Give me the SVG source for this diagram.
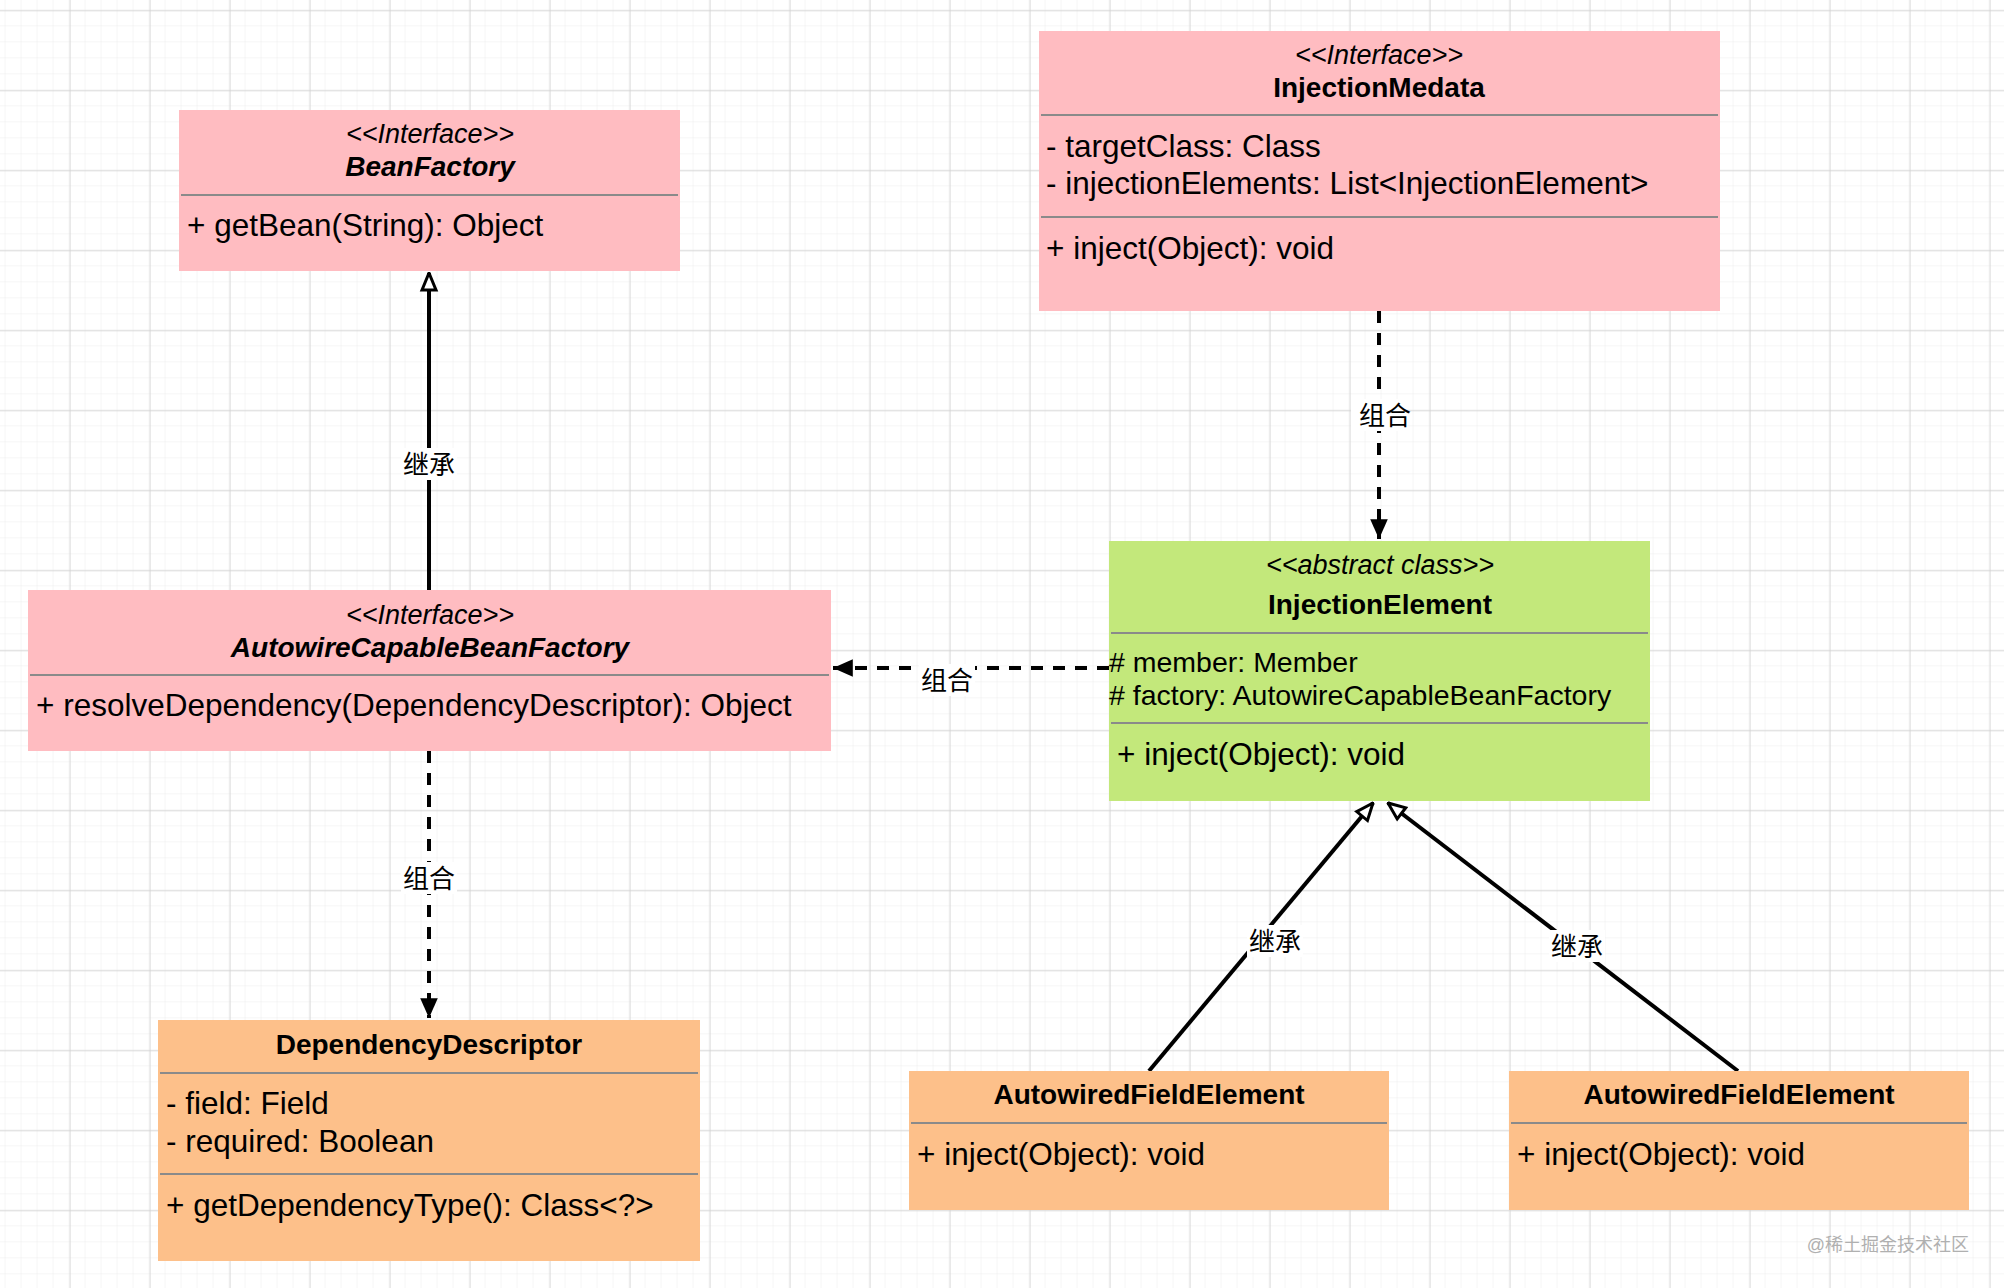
<svg xmlns="http://www.w3.org/2000/svg" width="2004" height="1288" viewBox="0 0 2004 1288">
<style>
text{font-family:"Liberation Sans",Arial,"Noto Sans CJK SC",sans-serif;fill:#000}
.st{font-size:27px;font-style:italic;text-anchor:middle}
.nm{font-size:28px;font-weight:bold;text-anchor:middle}
.it{font-style:italic}
.m{font-size:31.5px}
.sep{stroke:#8a8a8a;stroke-width:2}
.pink{fill:#FFBCC1}.green{fill:#C3E87B}.orange{fill:#FDC08A}
.ln{stroke:#000;stroke-width:4;fill:none}
.d{stroke-dasharray:12 10}
.lbl{font-size:26px;text-anchor:middle}
.lb{fill:#fff}
</style>
<defs>
<pattern id="minor" width="16" height="16" patternUnits="userSpaceOnUse" x="5.6" y="10.3"><path d="M16 0V16M0 16H16" stroke="#ececec" stroke-width="1" fill="none"/></pattern>
<pattern id="major" width="80" height="80" patternUnits="userSpaceOnUse" x="69.6" y="10.3"><path d="M0 0V80M0 0H80" stroke="#cfcfcf" stroke-width="1.5" fill="none"/></pattern>
<marker id="tri" viewBox="0 0 20 20" refX="19" refY="10" markerWidth="20" markerHeight="20" markerUnits="userSpaceOnUse" orient="auto"><path d="M2 3L19 10L2 17Z" fill="#fff" stroke="#000" stroke-width="3"/></marker>
<marker id="arr" viewBox="0 0 20 20" refX="19" refY="10" markerWidth="22" markerHeight="22" markerUnits="userSpaceOnUse" orient="auto"><path d="M1 2L19 10L1 18Z" fill="#000"/></marker>
</defs>
<rect width="2004" height="1288" fill="#fff"/>
<rect width="2004" height="1288" fill="url(#minor)"/>
<rect width="2004" height="1288" fill="url(#major)"/>

<g id="connectors">
<path class="ln" d="M429 590V273" marker-end="url(#tri)"/>
<path class="ln d" d="M1379 311V539" marker-end="url(#arr)"/>
<path class="ln d" d="M1109 668H833" marker-end="url(#arr)"/>
<path class="ln d" d="M429 751V1018" marker-end="url(#arr)"/>
<path class="ln" d="M1149 1071L1373 803" marker-end="url(#tri)"/>
<path class="ln" d="M1738 1071L1388 803" marker-end="url(#tri)"/>
<rect class="lb" x="401" y="448" width="56" height="32"/><text class="lbl" x="429" y="474">继承</text>
<rect class="lb" x="1351" y="399" width="56" height="32"/><text class="lbl" x="1385" y="425">组合</text>
<rect class="lb" x="919" y="664" width="56" height="32"/><text class="lbl" x="947" y="690">组合</text>
<rect class="lb" x="401" y="862" width="56" height="32"/><text class="lbl" x="429" y="888">组合</text>
<rect class="lb" x="1247" y="925" width="56" height="32"/><text class="lbl" x="1275" y="951">继承</text>
<rect class="lb" x="1549" y="930" width="56" height="32"/><text class="lbl" x="1577" y="956">继承</text>
</g>

<g id="BeanFactory">
<rect class="pink" x="179" y="110" width="501" height="161"/>
<text class="st" x="430" y="143">&lt;&lt;Interface&gt;&gt;</text>
<text class="nm it" x="430" y="176">BeanFactory</text>
<line class="sep" x1="181" y1="195" x2="678" y2="195"/>
<text class="m" x="187" y="236">+ getBean(String): Object</text>
</g>

<g id="InjectionMedata">
<rect class="pink" x="1039" y="31" width="681" height="280"/>
<text class="st" x="1379" y="64">&lt;&lt;Interface&gt;&gt;</text>
<text class="nm" x="1379" y="97">InjectionMedata</text>
<line class="sep" x1="1041" y1="115" x2="1718" y2="115"/>
<text class="m" x="1046" y="157">- targetClass: Class</text>
<text class="m" x="1046" y="194">- injectionElements: List&lt;InjectionElement&gt;</text>
<line class="sep" x1="1041" y1="217" x2="1718" y2="217"/>
<text class="m" x="1046" y="259">+ inject(Object): void</text>
</g>

<g id="AutowireCapableBeanFactory">
<rect class="pink" x="28" y="590" width="803" height="161"/>
<text class="st" x="430" y="624">&lt;&lt;Interface&gt;&gt;</text>
<text class="nm it" x="430" y="657">AutowireCapableBeanFactory</text>
<line class="sep" x1="30" y1="675" x2="829" y2="675"/>
<text class="m" x="36" y="716">+ resolveDependency(DependencyDescriptor): Object</text>
</g>

<g id="InjectionElement">
<rect class="green" x="1109" y="541" width="541" height="260"/>
<text class="st" x="1380" y="574">&lt;&lt;abstract class&gt;&gt;</text>
<text class="nm" x="1380" y="614">InjectionElement</text>
<line class="sep" x1="1111" y1="633" x2="1648" y2="633"/>
<text x="1109" y="672" style="font-size:28.5px"># member: Member</text>
<text x="1109" y="705" style="font-size:28.5px"># factory: AutowireCapableBeanFactory</text>
<line class="sep" x1="1111" y1="723" x2="1648" y2="723"/>
<text class="m" x="1117" y="765">+ inject(Object): void</text>
</g>

<g id="DependencyDescriptor">
<rect class="orange" x="158" y="1020" width="542" height="241"/>
<text class="nm" x="429" y="1054">DependencyDescriptor</text>
<line class="sep" x1="160" y1="1073" x2="698" y2="1073"/>
<text class="m" x="166" y="1114">- field: Field</text>
<text class="m" x="166" y="1152">- required: Boolean</text>
<line class="sep" x1="160" y1="1174" x2="698" y2="1174"/>
<text class="m" x="166" y="1216">+ getDependencyType(): Class&lt;?&gt;</text>
</g>

<g id="AutowiredFieldElement1">
<rect class="orange" x="909" y="1071" width="480" height="139"/>
<text class="nm" x="1149" y="1104">AutowiredFieldElement</text>
<line class="sep" x1="911" y1="1123" x2="1387" y2="1123"/>
<text class="m" x="917" y="1165">+ inject(Object): void</text>
</g>

<g id="AutowiredFieldElement2">
<rect class="orange" x="1509" y="1071" width="460" height="139"/>
<text class="nm" x="1739" y="1104">AutowiredFieldElement</text>
<line class="sep" x1="1511" y1="1123" x2="1967" y2="1123"/>
<text class="m" x="1517" y="1165">+ inject(Object): void</text>
</g>

<text x="1969" y="1251" style="font-size:18px;fill:#b0b0b0;text-anchor:end">@稀土掘金技术社区</text>
</svg>
